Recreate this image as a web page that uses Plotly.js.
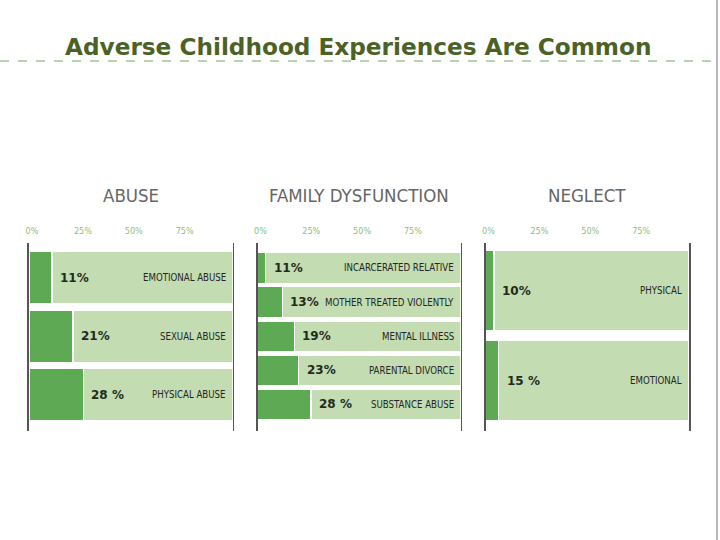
<!DOCTYPE html>
<html>
<head>
<meta charset="utf-8">
<script src="https://cdn.plot.ly/plotly-3.0.1.min.js"></script>
<style>html,body{margin:0;padding:0;background:#fff;}#chart{width:720px;height:540px;}</style>
</head>
<body>
<div id="chart"></div>
<script>
// ---- data ----
const chartTitle = 'Adverse Childhood Experiences Are Common';
const panelTitles = ['ABUSE', 'FAMILY DYSFUNCTION', 'NEGLECT'];
const tickVals = [0, 25, 50, 75];
const tickLabels = ['0%', '25%', '50%', '75%'];

const abuseCats = ['EMOTIONAL ABUSE', 'SEXUAL ABUSE', 'PHYSICAL ABUSE'];
const abuseLabels = ['11%', '21%', '28 %'];
const abuseBars = [11.2, 21.5, 26.7];          // bar lengths as drawn (%)

const familyCats = ['INCARCERATED RELATIVE', 'MOTHER TREATED VIOLENTLY', 'MENTAL ILLNESS', 'PARENTAL DIVORCE', 'SUBSTANCE ABUSE'];
const familyLabels = ['11%', '13%', '19%', '23%', '28 %'];
const familyBars = [4.0, 12.3, 18.2, 20.2, 26.4];

const neglectCats = ['PHYSICAL', 'EMOTIONAL'];
const neglectLabels = ['10%', '15 %'];
const neglectBars = [4.1, 6.5];

// ---- styles ----
const DARK = '#5ea954';
const LIGHT = '#c3dcb1';
const NARROW = 'Liberation Sans Narrow, DejaVu Sans Condensed, Arial Narrow, sans-serif';

const panels = [
  {cats: abuseCats, labels: abuseLabels, bars: abuseBars, xd: [29/720, 232.5/720], yr: [2.62, -0.59]},
  {cats: familyCats, labels: familyLabels, bars: familyBars, xd: [257.5/720, 460.7/720], yr: [4.78, -0.73]},
  {cats: neglectCats, labels: neglectLabels, bars: neglectBars, xd: [485.5/720, 689/720], yr: [1.56, -0.53]}
];
const yDom = [(540-431)/540, (540-243)/540];

const data = [];
const annotations = [];
const layout = {
  width: 720, height: 540,
  margin: {l: 0, r: 0, t: 0, b: 0},
  paper_bgcolor: '#ffffff', plot_bgcolor: 'rgba(0,0,0,0)',
  showlegend: false,
  barmode: 'stack',
  bargap: 0.1,
  annotations: annotations,
  shapes: [
    {type: 'line', xref: 'paper', yref: 'paper', x0: 0, x1: 716/720, y0: 1-61/540, y1: 1-61/540,
     line: {color: '#a3c596', width: 1.3, dash: 'dash'}},
    {type: 'line', xref: 'paper', yref: 'paper', x0: 717/720, x1: 717/720, y0: 0, y1: 1,
     line: {color: '#b8b8b8', width: 2}}
  ]
};

panels.forEach((p, i) => {
  const n = i === 0 ? '' : String(i + 1);
  const xa = 'x' + n, ya = 'y' + n;
  data.push({
    type: 'bar', orientation: 'h', xaxis: xa, yaxis: ya,
    y: p.cats, x: p.bars,
    marker: {color: DARK, line: {color: '#ffffff', width: 1.5}},
    hoverinfo: 'skip'
  });
  data.push({
    type: 'bar', orientation: 'h', xaxis: xa, yaxis: ya,
    y: p.cats, x: p.bars.map(v => 100 - v),
    marker: {color: LIGHT, line: {color: '#ffffff', width: 1.5}},
    hoverinfo: 'skip'
  });
  layout['xaxis' + n] = {
    domain: p.xd, range: [0, 100], anchor: ya, side: 'top',
    tickvals: tickVals, ticktext: tickLabels,
    ticks: 'outside', ticklen: 4, tickcolor: 'rgba(0,0,0,0)',
    ticklabelshift: 3,
    tickfont: {family: NARROW, size: 9, color: '#8cbf7c'},
    showgrid: false, zeroline: false, showline: false, fixedrange: true
  };
  layout['yaxis' + n] = {
    domain: yDom, anchor: xa, type: 'category', range: p.yr,
    showticklabels: false, ticks: '', showgrid: false, zeroline: false,
    showline: true, mirror: true, linecolor: '#555555', linewidth: 1.6, fixedrange: true
  };
  p.cats.forEach((c, j) => {
    annotations.push({
      xref: xa, yref: ya, x: 100, y: c, text: c, showarrow: false,
      xanchor: 'right', yanchor: 'middle', xshift: -5,
      font: {family: NARROW, size: 9.6, color: '#262626', weight: 'normal'}
    });
    annotations.push({
      xref: xa, yref: ya, x: p.bars[j], y: c, text: p.labels[j], showarrow: false,
      xanchor: 'left', yanchor: 'middle', xshift: 6,
      font: {family: 'DejaVu Sans, sans-serif', size: 12, color: '#1e2b1e', weight: 'bold'}
    });
  });
  annotations.push({
    xref: 'paper', yref: 'paper', x: (p.xd[0] + p.xd[1]) / 2, y: 1 - 195/540,
    text: panelTitles[i], showarrow: false, xanchor: 'center', yanchor: 'middle',
    font: {family: NARROW, size: 18.5, color: '#666666'}
  });
});

annotations.push({
  xref: 'paper', yref: 'paper', x: 357.5/720, y: 1 - 46.5/540,
  text: '<b>' + chartTitle + '</b>', showarrow: false, xanchor: 'center', yanchor: 'middle',
  font: {family: 'DejaVu Sans, sans-serif', size: 23.2, color: '#4b6226'}
});

Plotly.newPlot('chart', data, layout, {displayModeBar: false, staticPlot: true});
</script>
</body>
</html>
